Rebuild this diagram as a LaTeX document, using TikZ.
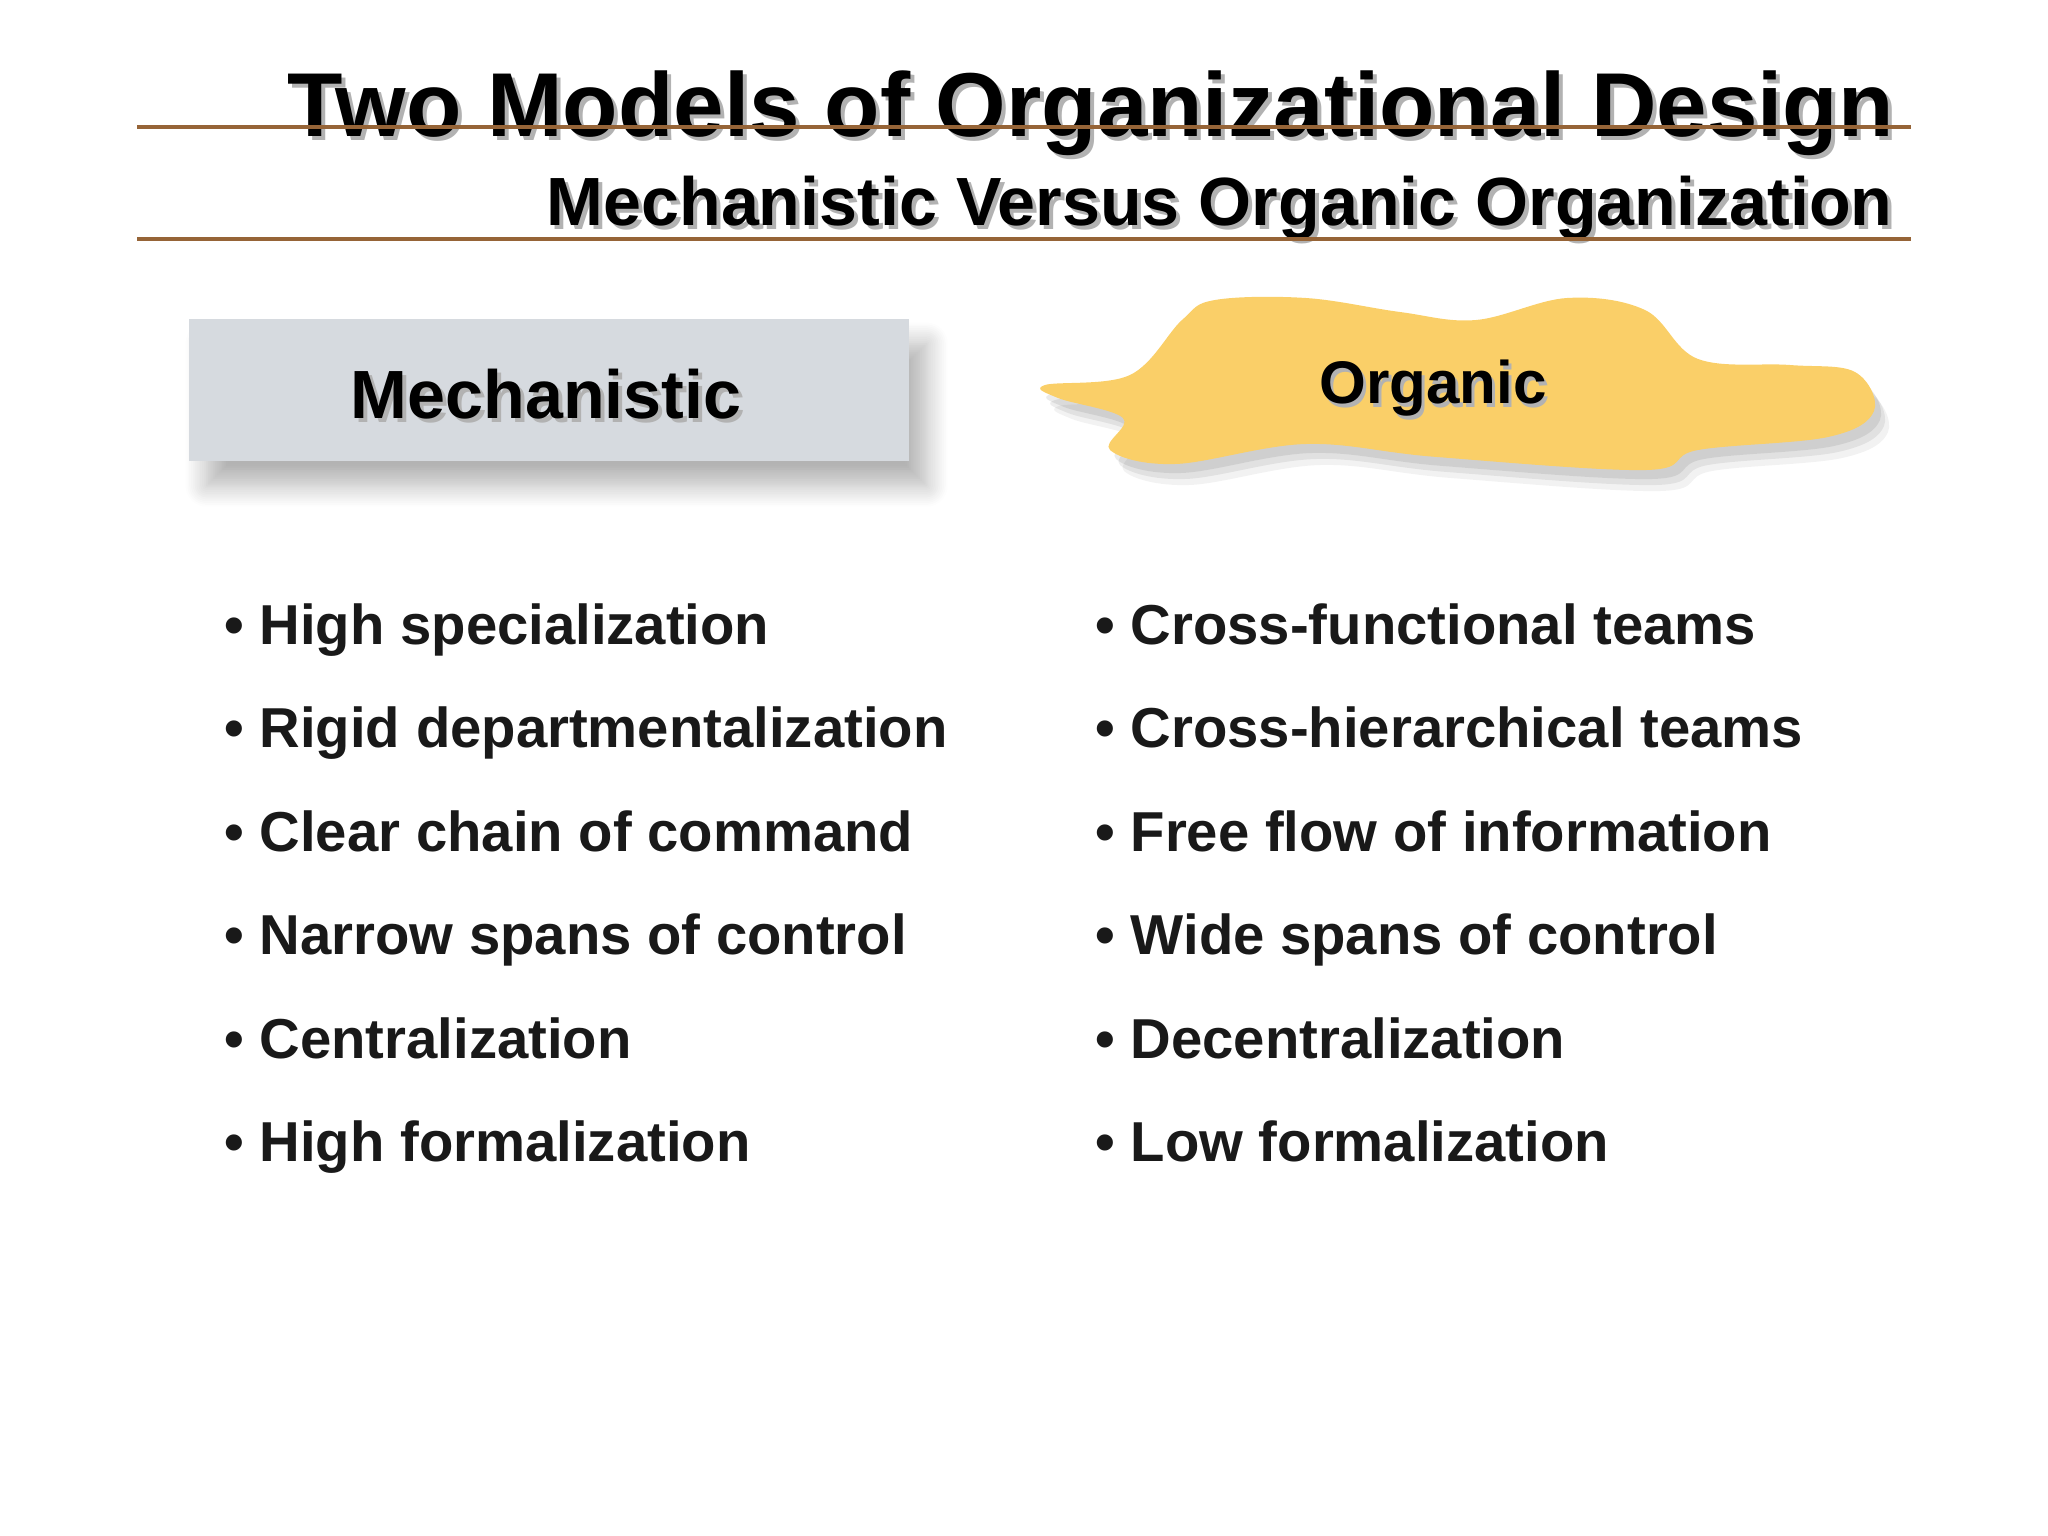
\documentclass[tikz,border=0pt]{standalone}
\usepackage{fontspec}
\setmainfont{Liberation Sans}
\usetikzlibrary{shadows.blur}
\definecolor{rule}{RGB}{150,100,55}
\definecolor{boxgray}{RGB}{214,218,223}
\definecolor{blobyel}{RGB}{250,207,104}
\tikzset{
  shtext/.style={font=\bfseries\fontsize{#1}{#1}\selectfont},
  bullet/.style={anchor=base west, font=\bfseries\fontsize{16}{18}\selectfont, text=black!90}
}
\begin{document}
\begin{tikzpicture}[x=0.01cm,y=-0.01cm]
\useasboundingbox (0,0) rectangle (2048,1536);
% title
\node[anchor=base east, text=black!30, shtext=25.8] at (1910,140) {Two Models of Organizational Design};
\node[anchor=base east, shtext=25.8] (title) at (1906,136) {Two Models of Organizational Design};
\draw[rule, line width=1.2pt] (137,127) coordinate (l1a) -- (1911,127) coordinate (l1b);
\node[anchor=base east, text=black!30, shtext=19.4] at (1909,229) {Mechanistic Versus Organic Organization};
\node[anchor=base east, shtext=19.4] (sub) at (1905,225) {Mechanistic Versus Organic Organization};
\draw[rule, line width=1.2pt] (137,239) coordinate (l2a) -- (1911,239) coordinate (l2b);
% mechanistic box
\node[fill=boxgray, minimum width=720*0.01cm, minimum height=142*0.01cm, inner sep=0,
  blur shadow={shadow xshift=5pt, shadow yshift=-7pt, shadow blur steps=12, shadow blur radius=6pt, shadow opacity=30}] (mech) at (549,390) {};
\node[text=black!30, shtext=19.4] at (550,398) {Mechanistic};
\node[shtext=19.4] (mechl) at (546,394) {Mechanistic};
% organic blob
\foreach \o/\a in {14/0.05,10/0.07,6/0.08} {
\fill[black, opacity=\a, shift={(\o,1.5*\o)}] plot[smooth cycle, tension=0.6] coordinates {(1045,385) (1130,375) (1182,320) (1215,300) (1306,298) (1400,312) (1476,320) (1567,298) (1645,310) (1698,359) (1790,365) (1855,372) (1874,411) (1828,437) (1698,450) (1646,470) (1437,457) (1306,444) (1175,464) (1110,450) (1123,418) (1058,398)};
}
\fill[blobyel] plot[smooth cycle, tension=0.6] coordinates {(1045,385) (1130,375) (1182,320) (1215,300) (1306,298) (1400,312) (1476,320) (1567,298) (1645,310) (1698,359) (1790,365) (1855,372) (1874,411) (1828,437) (1698,450) (1646,470) (1437,457) (1306,444) (1175,464) (1110,450) (1123,418) (1058,398)};
\node[text=black!30, shtext=17.1] at (1436,392) {Organic};
\node[shtext=17.1] (org) at (1433,388) {Organic};
% bullets
\foreach \t [count=\i] in {High specialization, Rigid departmentalization, Clear chain of command, Narrow spans of control, Centralization, High formalization}
  \node[bullet] (m\i) at (212,{644+(\i-1)*103.5}) {• \t};
\foreach \t [count=\i] in {Cross-functional teams, Cross-hierarchical teams, Free flow of information, Wide spans of control, Decentralization, Low formalization}
  \node[bullet] (o\i) at (1083,{644+(\i-1)*103.5}) {• \t};
\end{tikzpicture}
\end{document}
